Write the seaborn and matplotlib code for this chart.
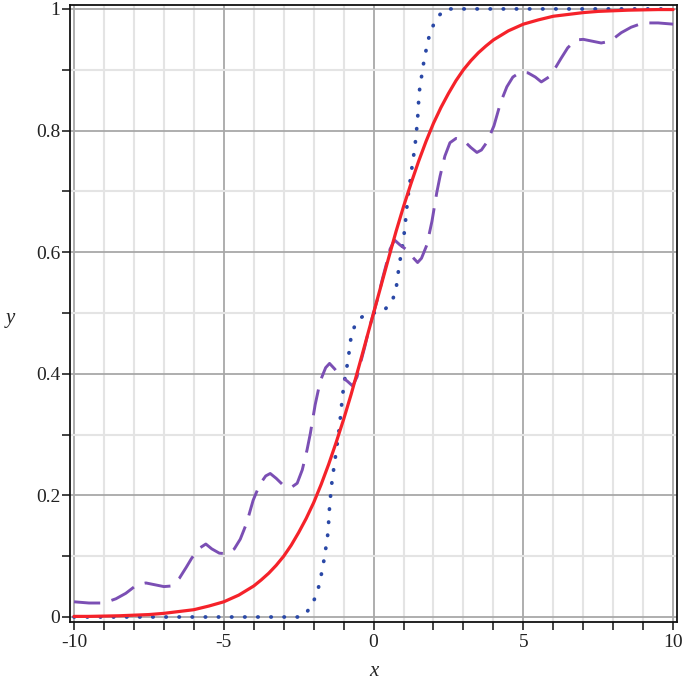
import numpy as np
import pandas as pd
import seaborn as sns
import matplotlib
matplotlib.use("Agg")
import matplotlib.pyplot as plt
from matplotlib.ticker import MultipleLocator, FixedLocator, FixedFormatter


# %%
# values
red_x = [-10, -9.5, -9, -8.5, -8, -7.5, -7, -6.5, -6, -5.5, -5, -4.5, -4, -3.75, -3.5,
         -3.25, -3, -2.75, -2.5, -2.25, -2, -1.75, -1.5, -1.25, -1, -0.75, -0.5, -0.25,
         0, 0.25, 0.5, 0.75, 1, 1.25, 1.5, 1.75, 2, 2.25, 2.5, 2.75, 3, 3.25, 3.5, 3.75,
         4, 4.5, 5, 5.5, 6, 6.5, 7, 7.5, 8, 8.5, 9, 9.5, 10]
red_y = [0.001, 0.001, 0.0015, 0.002, 0.003, 0.004, 0.006, 0.009, 0.012, 0.018, 0.025,
         0.036, 0.051, 0.061, 0.072, 0.085, 0.100, 0.118, 0.139, 0.162, 0.188, 0.218,
         0.251, 0.287, 0.325, 0.366, 0.410, 0.455, 0.500, 0.545, 0.590, 0.634, 0.675,
         0.713, 0.749, 0.782, 0.812, 0.838, 0.861, 0.882, 0.900, 0.915, 0.928, 0.939,
         0.949, 0.964, 0.975, 0.982, 0.988, 0.991, 0.994, 0.996, 0.997, 0.998, 0.9985,
         0.999, 0.999]

blue_x = [-10, -2.4, -2.2, -2.0, -1.85, -1.76, -1.68, -1.62, -1.55, -1.51, -1.49, -1.46,
          -1.42, -1.38, -1.32, -1.26, -1.2, -1.14, -1.1, -1.06, -1.02, -0.95, -0.86, -0.8,
          -0.74, -0.6, -0.4, -0.2, 0, 0.2, 0.4, 0.6, 0.74, 0.8, 0.86, 0.95, 1.02, 1.06,
          1.1, 1.14, 1.2, 1.26, 1.32, 1.38, 1.42, 1.46, 1.49, 1.51, 1.55, 1.62, 1.68,
          1.76, 1.85, 2.0, 2.2, 2.4, 10]
blue_y = [0, 0, 0.010, 0.026, 0.046, 0.066, 0.086, 0.106, 0.126, 0.146, 0.166, 0.187,
          0.207, 0.227, 0.247, 0.268, 0.290, 0.312, 0.332, 0.352, 0.370, 0.395, 0.420,
          0.442, 0.465, 0.482, 0.493, 0.499, 0.500, 0.501, 0.507, 0.518, 0.535, 0.558,
          0.580, 0.605, 0.630, 0.648, 0.668, 0.688, 0.710, 0.732, 0.753, 0.773, 0.793,
          0.813, 0.834, 0.854, 0.874, 0.894, 0.914, 0.934, 0.954, 0.974, 0.990, 1.0, 1.0]

purple_x = [-10, -9.5, -9, -8.6, -8.27, -7.9, -7.6, -7.3, -7.0, -6.75, -6.48, -6.25, -6.08,
            -5.85, -5.6, -5.4, -5.15, -4.9, -4.65, -4.45, -4.24, -4.02, -3.8, -3.6, -3.45,
            -3.25, -3.0, -2.75, -2.55, -2.38, -2.22, -2.11, -1.95, -1.78, -1.6, -1.47, -1.3,
            -1.1, -0.88, -0.7, -0.55, -0.44, -0.3, -0.16, 0, 0.16, 0.3, 0.44, 0.55, 0.7,
            0.88, 1.1, 1.3, 1.47, 1.6, 1.78, 1.95, 2.11, 2.22, 2.38, 2.55, 2.75, 3.0, 3.25,
            3.45, 3.6, 3.8, 4.02, 4.24, 4.45, 4.65, 4.9, 5.15, 5.4, 5.6, 5.85, 6.08, 6.25,
            6.48, 6.75, 7.0, 7.3, 7.6, 7.9, 8.27, 8.6, 9.0, 9.5, 10.0]
purple_y = [0.025, 0.023, 0.023, 0.030, 0.039, 0.053, 0.056, 0.053, 0.050, 0.051, 0.064,
            0.082, 0.096, 0.112, 0.120, 0.112, 0.105, 0.104, 0.112, 0.128, 0.154, 0.192,
            0.218, 0.232, 0.236, 0.228, 0.216, 0.213, 0.220, 0.242, 0.275, 0.302, 0.349,
            0.388, 0.410, 0.417, 0.408, 0.396, 0.388, 0.380, 0.395, 0.417, 0.443, 0.472,
            0.500, 0.528, 0.557, 0.583, 0.605, 0.620, 0.612, 0.604, 0.592, 0.583, 0.590,
            0.612, 0.651, 0.698, 0.725, 0.758, 0.780, 0.787, 0.784, 0.772, 0.764, 0.768,
            0.782, 0.808, 0.846, 0.872, 0.888, 0.896, 0.895, 0.888, 0.880, 0.888, 0.904,
            0.918, 0.936, 0.949, 0.950, 0.947, 0.944, 0.947, 0.961, 0.970, 0.977, 0.977,
            0.975]

x_major = [-10, -5, 0, 5, 10]
x_labels = ["-10", "-5", "0", "5", "10"]
y_major = [0, 0.2, 0.4, 0.6, 0.8, 1]
y_labels = ["0", "0.2", "0.4", "0.6", "0.8", "1"]


# %%
sns.set_style("white")
plt.rcParams['font.family'] = ['Liberation Serif', 'DejaVu Serif']

fig = plt.figure(figsize=(6.85, 6.8), dpi=100)
ax = fig.add_axes([0.1015, 0.0846, 0.8864, 0.9085])

red = pd.DataFrame({"x": red_x, "y": red_y})
blue = pd.DataFrame({"x": blue_x, "y": blue_y})
purple = pd.DataFrame({"x": purple_x, "y": purple_y})

sns.lineplot(data=blue, x="x", y="y", ax=ax, color="#2a48a6", lw=2.7,
             linestyle=(0, (0.1, 3.4)), dash_capstyle="round", estimator=None, sort=False)
sns.lineplot(data=purple, x="x", y="y", ax=ax, color="#7b4fb4", lw=2.1,
             linestyle=(0, (9, 4)), estimator=None, sort=False)
sns.lineplot(data=red, x="x", y="y", ax=ax, color="#f5222a", lw=2.3,
             estimator=None, sort=False)

ax.set_xlim(-10.15, 10.12)
ax.set_ylim(-0.009, 1.007)

ax.xaxis.set_major_locator(FixedLocator(x_major))
ax.xaxis.set_major_formatter(FixedFormatter(x_labels))
ax.xaxis.set_minor_locator(MultipleLocator(1))
ax.yaxis.set_major_locator(FixedLocator(y_major))
ax.yaxis.set_major_formatter(FixedFormatter(y_labels))
ax.yaxis.set_minor_locator(MultipleLocator(0.1))

ax.grid(which="minor", color="#e4e4e4", lw=1.5, zorder=0)
ax.grid(which="major", color="#a8a8a8", lw=1.3, zorder=0)
ax.set_axisbelow(True)

ax.tick_params(which="both", direction="out", length=5.5, width=1.2, color="#222222",
               bottom=True, left=True, top=False, right=False)
ax.tick_params(axis="x", which="major", labelsize=14, pad=3, labelcolor="#222222")
ax.tick_params(axis="y", which="major", labelsize=14, pad=1, labelcolor="#222222")

for s in ax.spines.values():
    s.set_color("#111111")
    s.set_linewidth(1.3)

ax.set_xlabel("")
ax.set_ylabel("")
fig.text(374 / 685, 1 - 672 / 680, "x", style="italic", fontsize=15, ha="center", va="center")
fig.text(10 / 685, 1 - 318 / 680, "y", style="italic", fontsize=15, ha="center", va="center")

fig.savefig("out.png", dpi=100)
